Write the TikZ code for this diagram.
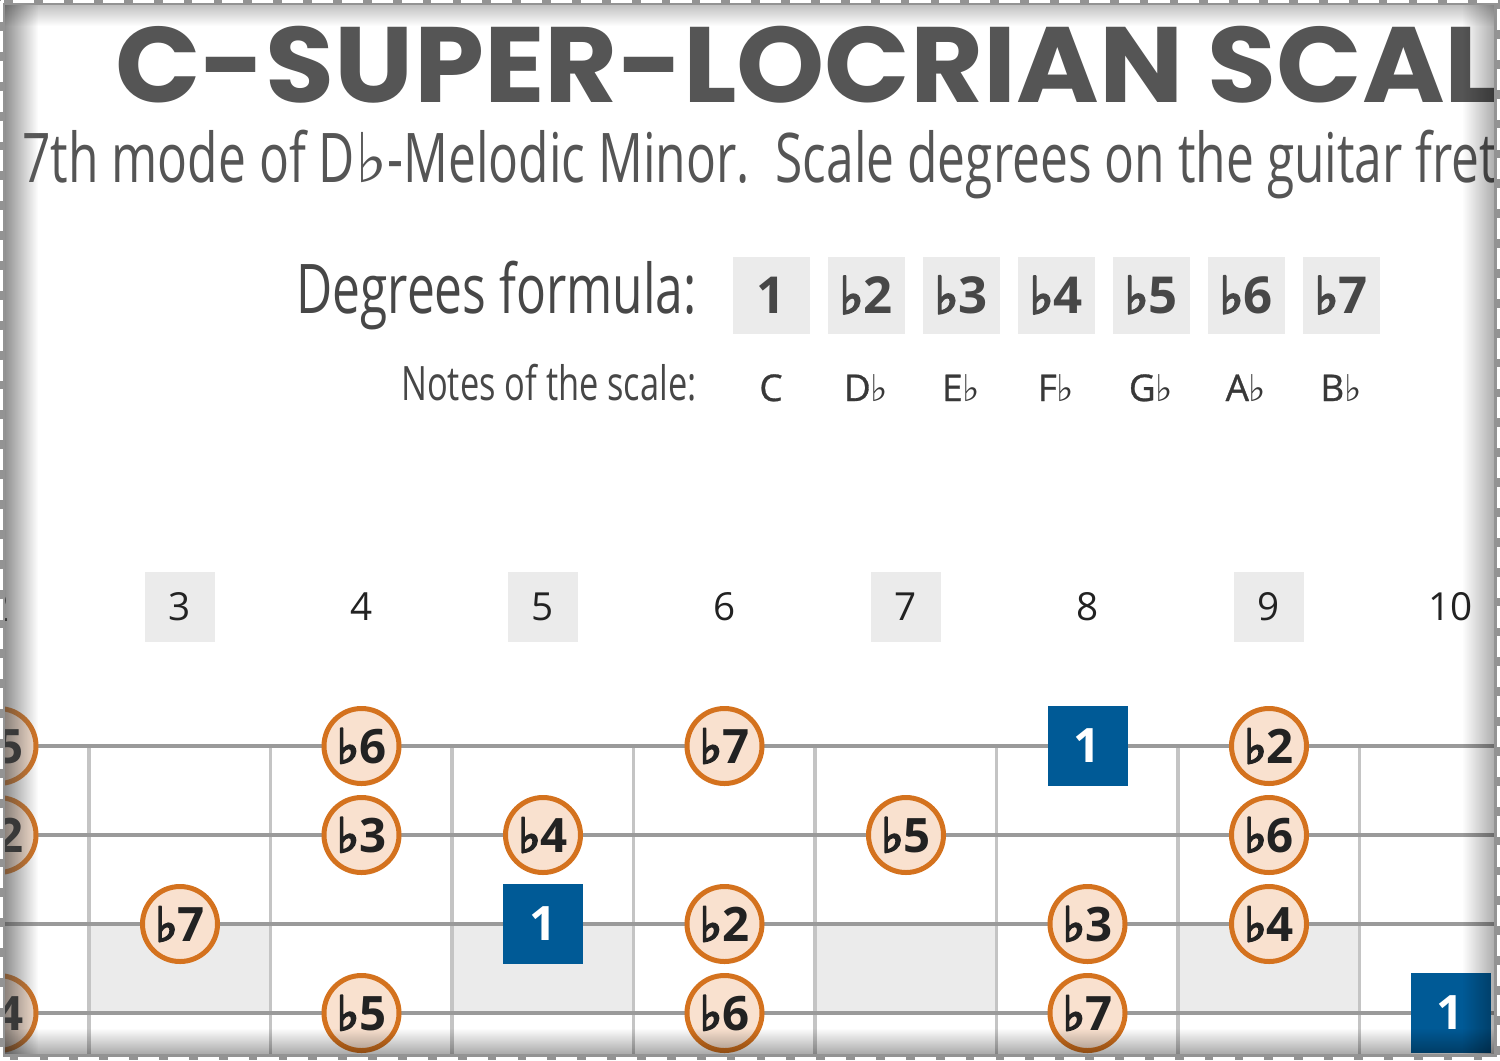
\documentclass[tikz,border=0pt]{standalone}
\usepackage{fontspec}
\setmainfont{Open Sans}
\newfontfamily\titlefont[FakeStretch=1.047]{Poppins}
\newfontfamily\condfont[FakeStretch=0.725]{Open Sans}
\newfontfamily\notefont[FakeBold=0.8]{Open Sans}
\newfontfamily\flatfont{DejaVu Sans}
\newfontfamily\boldflatfont[FakeBold=4.5]{DejaVu Sans}
\usetikzlibrary{fadings}
\definecolor{titlegray}{HTML}{555555}
\definecolor{labelgray}{HTML}{474747}
\definecolor{boxgray}{HTML}{EBEBEB}
\definecolor{stringgray}{HTML}{9A9A9A}
\definecolor{wiregray}{HTML}{C4C4C4}
\definecolor{notefill}{HTML}{F9E1CF}
\definecolor{noteline}{HTML}{D4721E}
\definecolor{rootblue}{HTML}{005A96}
\definecolor{notetext}{HTML}{222222}
\newcommand\flt{{\flatfont\char"266D}}
\newcommand\bflt{{\boldflatfont\char"266D}}
\tikzfading[name=fromleft, left color=transparent!0, right color=transparent!100]
\tikzfading[name=fromright, left color=transparent!100, right color=transparent!0]
\tikzfading[name=fromtop, top color=transparent!0, bottom color=transparent!100]
\tikzfading[name=frombottom, top color=transparent!100, bottom color=transparent!0]

\begin{document}
\begin{tikzpicture}[x=0.2mm,y=-0.2mm,
	degbox/.style={fill=boxgray,minimum size=15.4mm,inner sep=0pt,text=labelgray,font=\fontsize{29}{29}\selectfont\bfseries},
	notename/.style={anchor=base,text=notetext!90,font=\notefont\fontsize{21}{21}\selectfont},
	fretnum/.style={minimum size=14mm,inner sep=0pt,text=notetext,font=\fontsize{22}{22}\selectfont},
	fretmark/.style={fretnum,fill=boxgray},
	note/.style={circle,draw=noteline,fill=notefill,line width=1mm,minimum size=15mm,inner sep=0pt,text=notetext,font=\fontsize{27}{27}\selectfont\bfseries},
	root/.style={rectangle,fill=rootblue,minimum size=16mm,inner sep=0pt,text=white,font=\fontsize{27}{27}\selectfont\bfseries},
	string/.style={stringgray,line width=2.2pt},
	wire/.style={wiregray,line width=1.8pt}]
	\useasboundingbox (0,0) rectangle (1500,1060);
	\clip (0,0) rectangle (1500,1060);
	\fill[white] (0,0) rectangle (1500,1060);

	\node[anchor=base west,text=titlegray,font=\titlefont\fontsize{61}{61}\selectfont\bfseries,inner sep=0pt] (title) at (115,102) {C-SUPER-LOCRIAN SCAL};
	\node[anchor=base west,text=titlegray,font=\condfont\fontsize{39}{39}\selectfont,inner sep=0pt] (subtitle) at (22,182) {7th mode of D\flt-Melodic Minor.\ \ Scale degrees on the guitar fret};

	\node[anchor=base east,text=labelgray,font=\condfont\fontsize{39}{39}\selectfont,inner sep=0pt] (formula) at (697,313) {Degrees formula:};
	\node[anchor=base east,text=labelgray,font=\condfont\fontsize{27}{27}\selectfont,inner sep=0pt] (scalenotes) at (697,400) {Notes of the scale:};

	\foreach \i/\d/\n in {1/1/C, 2/\bflt2/D\flt, 3/\bflt3/E\flt, 4/\bflt4/F\flt, 5/\bflt5/G\flt, 6/\bflt6/A\flt, 7/\bflt7/B\flt} {
		\node[degbox] (deg\i) at ({771+(\i-1)*95},295) {\d};
		\node[notename] (name\i) at ({771+(\i-1)*95},401) {\n};
	}

	\foreach \f in {3,5,7,9}
		\node[fretmark] (fret\f) at ({180+(\f-3)*181.5},607) {\f};
	\foreach \f in {2,4,6,8,10}
		\node[fretnum] (fret\f) at ({180+(\f-3)*181.5},607) {\f};

	\foreach \f in {3,5,7,9}
		\fill[boxgray] ({89+(\f-3)*181.5},924) rectangle ({89+(\f-2)*181.5},1013);
	\foreach \k in {0,...,7}
		\draw[wire] ({89+\k*181.5},746) -- ({89+\k*181.5},1060);
	\foreach \s in {1,...,4}
		\draw[string] (0,{657+\s*89}) -- (1500,{657+\s*89});

	\foreach \s/\f/\t in {1/2/\bflt5, 1/4/\bflt6, 1/6/\bflt7, 1/9/\bflt2,
		2/2/\bflt2, 2/4/\bflt3, 2/5/\bflt4, 2/7/\bflt5, 2/9/\bflt6,
		3/3/\bflt7, 3/6/\bflt2, 3/8/\bflt3, 3/9/\bflt4,
		4/2/\bflt4, 4/4/\bflt5, 4/6/\bflt6, 4/8/\bflt7}
		\node[note] (n\s-\f) at ({180+(\f-3)*181.5},{657+\s*89}) {\t};
	\foreach \s/\f in {1/8, 3/5, 4/10}
		\node[root] (r\s-\f) at ({180+(\f-3)*181.5},{657+\s*89}) {1};

	\fill[white,opacity=0.35,path fading=fromleft] (0,0) rectangle (40,1060);
	\fill[black,opacity=0.5,path fading=fromleft] (0,0) rectangle (38,1060);
	\fill[black,opacity=0.35,path fading=fromright] (1462,0) rectangle (1497,1060);
	\fill[black,opacity=0.3,path fading=fromtop] (0,0) rectangle (1500,26);
	\fill[black,opacity=0.35,path fading=frombottom] (0,1028) rectangle (1500,1055);
	\draw[gray!85,line width=3.4pt] (2,2) rectangle (1497,1057);
	\draw[white,line width=2pt,dash pattern=on 12pt off 5pt] (1,1) rectangle (1499,1059);
\end{tikzpicture}
\end{document}
